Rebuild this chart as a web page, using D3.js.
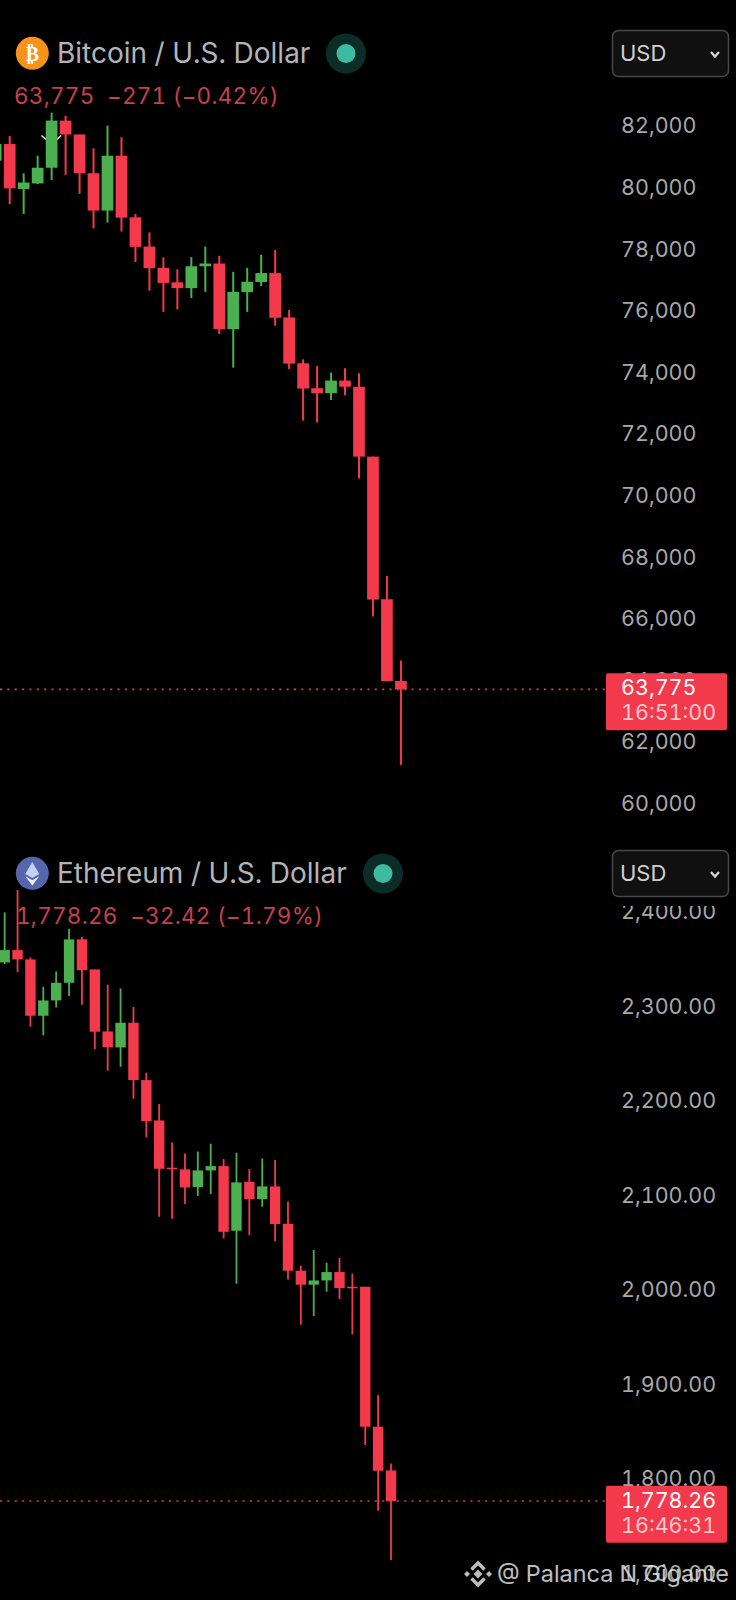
<!DOCTYPE html>
<html>
<head>
<meta charset="utf-8">
<script src="https://d3js.org/d3.v7.min.js"></script>
<style>
  html, body { margin: 0; padding: 0; background: #000; }
  svg { display: block; }
  text { font-family: Inter, "Noto Sans", sans-serif; font-variant-numeric: tabular-nums; font-feature-settings: "tnum"; }
</style>
</head>
<body>
<div id="chart"></div>
<script>
// Bitcoin candles, first one is cut off by the left edge
const btcOpen  = [80940,81480,80020,80200,80710,82240,81790,80530,79320,81100,79100,78150,77460,76990,76800,77510,77600,75470,76670,77000,77290,75850,74360,73550,73390,73800,73600,71330,66700,64046];
const btcClose = [81480,80040,80230,80710,82240,81790,80530,79320,81100,79090,78140,77450,76970,76800,77510,77600,75470,76680,77010,77290,75840,74350,73540,73390,73800,73600,71330,66690,64040,63775];
const btcHigh  = [81700,81740,80530,81100,82500,82400,81790,81340,82080,81700,79210,78610,77800,77410,77810,78150,77850,77330,77460,77880,78040,76090,74490,74270,74060,74200,74040,71330,67460,64710];
const btcLow   = [80800,79530,79210,80180,80310,80480,79860,78740,78930,78640,77650,76720,76030,76110,76480,76680,75310,74220,76030,76870,75580,74170,72500,72440,73170,73330,70620,66140,64040,61320];
const btcTicks = [82000,80000,78000,76000,74000,72000,70000,68000,66000,64000,62000,60000];

// Ethereum candles
const ethOpen  = [2348.2,2361.3,2351.4,2291.8,2308.0,2326.7,2372.6,2340.8,2275.2,2258.3,2284.4,2223.7,2181.0,2131.0,2129.2,2110.5,2128.1,2132.7,2064.3,2116.1,2097.8,2111.2,2071.7,2022.0,2007.2,2011.7,2020.6,2005.0,2005.0,1856.9,1810.68];
const ethClose = [2361.3,2351.4,2291.8,2308.0,2326.7,2372.6,2340.1,2274.9,2258.6,2284.4,2223.7,2180.3,2129.9,2129.6,2110.1,2128.1,2132.7,2063.2,2115.4,2097.8,2111.2,2071.4,2022.0,2007.2,2011.7,2020.6,2003.6,2004.3,1856.9,1810.3,1778.26];
const ethHigh  = [2401.2,2424.8,2353.5,2322.5,2338.7,2383.9,2375.4,2340.8,2324.6,2320.7,2301.3,2231.5,2198.3,2157.8,2146.1,2148.2,2156.4,2140.1,2146.8,2129.6,2140.8,2139.1,2095.3,2027.3,2043.9,2030.4,2035.7,2019.0,2005.0,1890.4,1818.0];
const ethLow   = [2346.5,2338.0,2280.2,2271.0,2300.6,2312.6,2303.4,2256.5,2233.6,2237.8,2204.0,2163.0,2079.1,2077.0,2092.5,2101.0,2103.1,2056.2,2008.2,2059.7,2089.7,2053.0,2012.8,1964.8,1974.0,1999.8,1992.0,1954.6,1837.5,1768.0,1715.8];
const ethTicks = [2400,2300,2200,2100,2000,1900,1800,1700];

const width = 736, height = 1600;
const red = "#f23a4c", green = "#4caf50";

const svg = d3.select("#chart").append("svg")
  .attr("width", width)
  .attr("height", height)
  .attr("viewBox", "0 0 736 1600")
  .style("background", "#000");

// one chart = axis labels, price line, candles
function drawPane(o) {
  const g = svg.append("g");
  const n = o.open.length;

  const x = d3.scaleLinear().domain([0, n - 1]).range(o.xRange);
  const y = d3.scaleLinear().domain(o.yDomain).range(o.yRange);

  // tick labels sit a little above the real price
  const axis = d3.axisRight(y).tickValues(o.ticks).tickSize(0).tickPadding(0).tickFormat(o.fmt);
  const ax = g.append("g").attr("transform", `translate(621,${o.labelShift})`).call(axis);
  ax.select(".domain").remove();
  ax.selectAll("text")
    .attr("fill", "#a8a8a8")
    .style("font-size", "21.5px")
    .style("font-family", "Inter, sans-serif");

  // dotted last price line
  const last = o.close[n - 1];
  g.append("line")
    .attr("x1", 0).attr("x2", 606)
    .attr("y1", y(last)).attr("y2", y(last))
    .attr("stroke", "#d8404e").attr("stroke-width", 1.6)
    .attr("stroke-dasharray", "2 5.35");

  if (o.before) o.before(g);

  const idx = d3.range(n);
  const col = i => o.close[i] >= o.open[i] ? green : red;

  g.selectAll("line.wick").data(idx).join("line")
    .attr("class", "wick")
    .attr("x1", i => x(i)).attr("x2", i => x(i))
    .attr("y1", i => y(o.high[i])).attr("y2", i => y(o.low[i]))
    .attr("stroke", col).attr("stroke-width", o.wick);

  g.selectAll("rect.body").data(idx).join("rect")
    .attr("class", "body")
    .attr("x", i => x(i) - o.bodyW / 2)
    .attr("width", o.bodyW)
    .attr("y", i => y(Math.max(o.open[i], o.close[i])))
    .attr("height", i => Math.max(1.5, Math.abs(y(o.open[i]) - y(o.close[i]))))
    .attr("fill", col);

  // header line
  g.append("text").attr("x", 57).attr("y", o.top + 63)
    .attr("fill", "#b4b4b8").style("font-size", "28px").text(o.title);
  g.append("text").attr("x", o.quoteX).attr("y", o.top + 104 + o.quoteDy)
    .attr("fill", "#c5414d").style("font-size", "22.5px").style("letter-spacing", "0.25px")
    .style("white-space", "pre").text(o.quote);

  // status dot
  g.append("circle").attr("cx", o.dotX).attr("cy", o.top + 53.5).attr("r", 20).attr("fill", "#0c2c28");
  g.append("circle").attr("cx", o.dotX).attr("cy", o.top + 53.5).attr("r", 9.5).attr("fill", "#3dbba0");

  // currency selector
  g.append("rect").attr("x", 612.5).attr("y", o.top + 30.5).attr("width", 116).attr("height", 46)
    .attr("rx", 6).attr("fill", "#101010").attr("stroke", "#48484a").attr("stroke-width", 1.5);
  g.append("text").attr("x", 620).attr("y", o.top + 60.5)
    .attr("fill", "#cfcfcf").style("font-size", "22px").text("USD");
  g.append("path").attr("d", `M711,${o.top + 52}L715,${o.top + 56.5}L719,${o.top + 52}`)
    .attr("fill", "none").attr("stroke", "#d8d8d8").attr("stroke-width", 2.2);

  // price tag
  g.append("rect").attr("x", 606).attr("y", o.tagY).attr("width", 121).attr("height", 57)
    .attr("rx", 2).attr("fill", red);
  g.append("text").attr("x", 621).attr("y", o.tagY + 22)
    .attr("fill", "#fff").style("font-size", "21.5px").text(o.fmt(last));
  g.append("text").attr("x", 621).attr("y", o.tagY + 47)
    .attr("fill", "#ffc9ce").style("font-size", "21.5px").text(o.timer);
}

drawPane({
  open: btcOpen, close: btcClose, high: btcHigh, low: btcLow, ticks: btcTicks,
  xRange: [-4.27, 400.9], yDomain: [82000, 60000], yRange: [128, 805.6], labelShift: -2,
  bodyW: 11.7, wick: 2, top: 0, dotX: 346,
  title: "Bitcoin / U.S. Dollar", quote: "63,775  \u2212271 (\u22120.42%)", quoteX: 14, quoteDy: 0,
  timer: "16:51:00", tagY: 673.3,
  fmt: d3.format(","),
  before: g => {
    // small white arrow peeking out from behind the green candle
    g.append("path").attr("d", "M41.5,135.5L46,139.5M61,135.5L57,139.5")
      .attr("fill", "none").attr("stroke", "#e8e8e8").attr("stroke-width", 1.5);
  }
});

drawPane({
  open: ethOpen, close: ethClose, high: ethHigh, low: ethLow, ticks: ethTicks,
  xRange: [4.67, 391], yDomain: [2000, 1700], yRange: [1291.5, 1575], labelShift: -1.5,
  bodyW: 10.4, wick: 1.8, top: 820, dotX: 383,
  title: "Ethereum / U.S. Dollar", quote: "1,778.26  \u221232.42 (\u22121.79%)", quoteX: 16, quoteDy: 0,
  timer: "16:46:31", tagY: 1485.7,
  fmt: d3.format(",.2f"),
  before: g => {
    // the currency box panel cuts off the top of the 2,400 label
    g.append("rect").attr("x", 606).attr("y", 885).attr("width", 130).attr("height", 21).attr("fill", "#000");
  }
});

// coin icons
svg.append("circle").attr("cx", 32.3).attr("cy", 53.3).attr("r", 16.5).attr("fill", "#f7931a");
svg.append("text").attr("x", 32.5).attr("y", 60.5).attr("text-anchor", "middle")
  .attr("fill", "#fff").style("font-size", "20px").style("font-weight", 700)
  .style("font-family", "DejaVu Sans").text("\u20bf");

svg.append("circle").attr("cx", 32.3).attr("cy", 873.3).attr("r", 16.5).attr("fill", "#5566ad");
svg.append("path").attr("d", "M32.3,862L39.3,874L32.3,878L25.3,874Z").attr("fill", "#c6d0f2");
svg.append("path").attr("d", "M32.3,880.3L39.3,876.2L32.3,885.5L25.3,876.2Z").attr("fill", "#eef1fc");

// watermark, drawn over the last tick label
const wm = svg.append("g").attr("opacity", 0.82);
wm.append("text").attr("x", 497).attr("y", 1582)
  .attr("fill", "#e6e6e6").style("font-size", "23.4px").text("@ Palanca N Gigante");
// binance logo: centre + side diamonds and two chevrons
const diamond = (cx, cy, r) => `M${cx},${cy - r}L${cx + r},${cy}L${cx},${cy + r}L${cx - r},${cy}Z`;
wm.append("path").attr("fill", "#e6e6e6")
  .attr("d", diamond(478, 1574, 4.5) + diamond(467, 1574, 3) + diamond(489, 1574, 3));
wm.append("path").attr("fill", "none").attr("stroke", "#e6e6e6").attr("stroke-width", 3.4)
  .attr("d", "M471.5,1569.5L478,1563L484.5,1569.5M471.5,1578.5L478,1585L484.5,1578.5");
</script>
</body>
</html>
